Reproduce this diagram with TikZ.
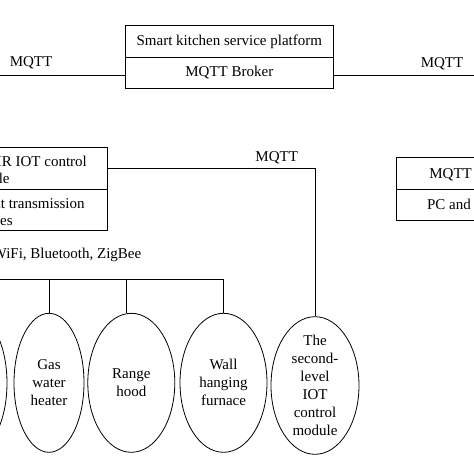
\documentclass[tikz,border=0pt]{standalone}
\usepackage{fontspec}
\setmainfont{Liberation Serif}
\usetikzlibrary{shapes.geometric}
\begin{document}
\begin{tikzpicture}[x=1pt,y=-1pt, line width=0.8pt,
  every node/.style={font=\fontsize{15}{18}\selectfont},
  cell/.style={draw, rectangle, inner sep=0pt, text height=11pt, text depth=4pt},
  dev/.style={draw, ellipse, inner sep=0pt, minimum height=139pt},
  txt/.style={inner sep=0pt}]
\useasboundingbox (0,0) rectangle (474,474);
\clip (0,0) rectangle (474,474);

% top platform box
\node[cell, minimum width=208pt, minimum height=31.6pt] (plat) at (229.3,41.5) {Smart kitchen service platform};
\node[cell, minimum width=208pt, minimum height=31pt] (broker) at (229.3,72.8) {MQTT Broker};
\coordinate (lend) at (-5,75);
\coordinate (rend) at (480,75);
\draw (broker.west |- lend) -- (lend);
\draw (broker.east |- rend) -- (rend);
\node[txt, anchor=base] (mq1) at (31,66.5) {MQTT};
\node[txt, anchor=base] (mq2) at (442,67) {MQTT};

% left control module box
\node[cell, minimum width=250pt, minimum height=42pt] (ctl1) at (-17.7,168.3) {};
\node[cell, minimum width=250pt, minimum height=41.4pt] (ctl2) at (-17.7,210) {};
\node[txt, anchor=base east] (t1) at (87.3,166) {IR IOT control};
\node[txt, anchor=base east] (t2) at (10,183.5) {le};
\node[txt, anchor=base east] (t3) at (85,208) {ut transmission};
\node[txt, anchor=base east] (t4) at (13,225) {es};

% right box
\node[cell, minimum width=200pt, minimum height=31.6pt] (r1) at (496,173.5) {};
\node[cell, minimum width=200pt, minimum height=30.7pt] (r2) at (496,204.65) {};
\node[txt, anchor=base west] (r1t) at (429,178) {MQTT};
\node[txt, anchor=base west] (r2t) at (426.7,209.5) {PC and};

% devices
\node[dev, minimum width=70pt] (p0) at (-28,383) {};
\node[dev, minimum width=70pt, label={[align=center]center:Gas\\water\\heater}] (gas) at (49,382.8) {};
\node[dev, minimum width=87pt, label={[align=center]center:Range\\hood}] (hood) at (131.3,382.8) {};
\node[dev, minimum width=87pt, label={[align=center]center:Wall\\hanging\\furnace}] (wall) at (223.5,382.8) {};
\node[dev, minimum width=88pt, minimum height=137.6pt, label={[align=center]center:The\\second-\\level\\IOT\\control\\module}] (sec) at (315,385.5) {};

% bus
\coordinate (bus) at (0,279);
\coordinate (hd) at (126.7,279);
\draw (p0.north) -- (p0.north |- bus) -- (wall.north |- bus) -- (wall.north);
\draw (gas.north) -- (gas.north |- bus);
\draw (hd) -- (hd |- hood.north);
\node[txt, anchor=base east] (wifi) at (141.7,258.5) {WiFi, Bluetooth, ZigBee};

% middle MQTT link
\draw (ctl1.east) -| (sec.north);
\node[txt, anchor=base] (mq3) at (276.7,161) {MQTT};
\end{tikzpicture}
\end{document}
